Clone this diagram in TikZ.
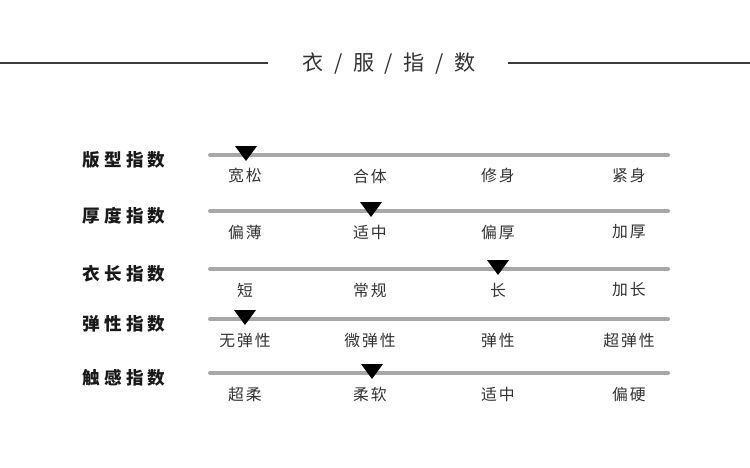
\documentclass[tikz,border=0pt]{standalone}
\usepackage{fontspec}
\usepackage{tikz}
\usetikzlibrary{calc,positioning}
\newfontfamily\cjk{Noto Sans CJK SC}
\newfontfamily\cjkrow[LetterSpace=24]{Noto Sans CJK SC}
\newfontfamily\cjkscale[LetterSpace=12]{Noto Sans CJK SC}
\definecolor{barc}{RGB}{168,168,168}
\definecolor{rulec}{RGB}{60,60,60}
\definecolor{txtc}{RGB}{50,50,50}

\begin{document}
\begin{tikzpicture}[x=0.02cm,y=-0.02cm,inner sep=0pt,
  bar/.style={line width=2.3pt,draw=barc,line cap=round},
  rulestyle/.style={line width=0.9pt,draw=rulec},
  marker/.style={fill=black},
  rowlab/.style={font=\cjkrow\bfseries\fontsize{10}{12}\selectfont,text=black!90},
  scalelab/.style={font=\cjkscale\fontsize{9}{11}\selectfont,text=txtc}]
  \useasboundingbox (0,0) rectangle (750,467);
  % title with rules on both sides
  \node[font=\cjk\fontsize{12}{14}\selectfont,text=txtc] (title) at (389,63)
    {衣\hskip.5em/\hskip.5em服\hskip.5em/\hskip.5em指\hskip.5em/\hskip.5em数};
  \coordinate (tl0) at (0,63);   \coordinate (tl1) at (268,63);
  \coordinate (tr0) at (508,63); \coordinate (tr1) at (750,63);
  \draw[rulestyle] (tl0) -- (tl1);
  \draw[rulestyle] (tr0) -- (tr1);
  % one row per index
  \foreach \i/\y/\lab/\a/\b/\c/\d/\m in {
      1/155/版型指数/宽松/合体/修身/紧身/246,
      2/211/厚度指数/偏薄/适中/偏厚/加厚/371,
      3/269/衣长指数/短/常规/长/加长/498,
      4/319/弹性指数/无弹性/微弹性/弹性/超弹性/245,
      5/373/触感指数/超柔/柔软/适中/偏硬/372} {
    \node[rowlab] (lab\i) at (124,\y+5) {\lab};
    \coordinate (l\i) at (210,\y); \coordinate (r\i) at (668,\y);
    \draw[bar] (l\i) -- (r\i);
    \foreach \x/\t [count=\j] in {245/\a,370/\b,498/\c,629/\d}
      \node[scalelab] (s\i\j) at (\x,\y+21) {\t};
    \coordinate (m\i) at (\m,\y);
    \fill[marker] (m\i) ++(-11,-9) -- ++(22,0) -- ++(-11,15) -- cycle;
  }
\end{tikzpicture}
\end{document}
